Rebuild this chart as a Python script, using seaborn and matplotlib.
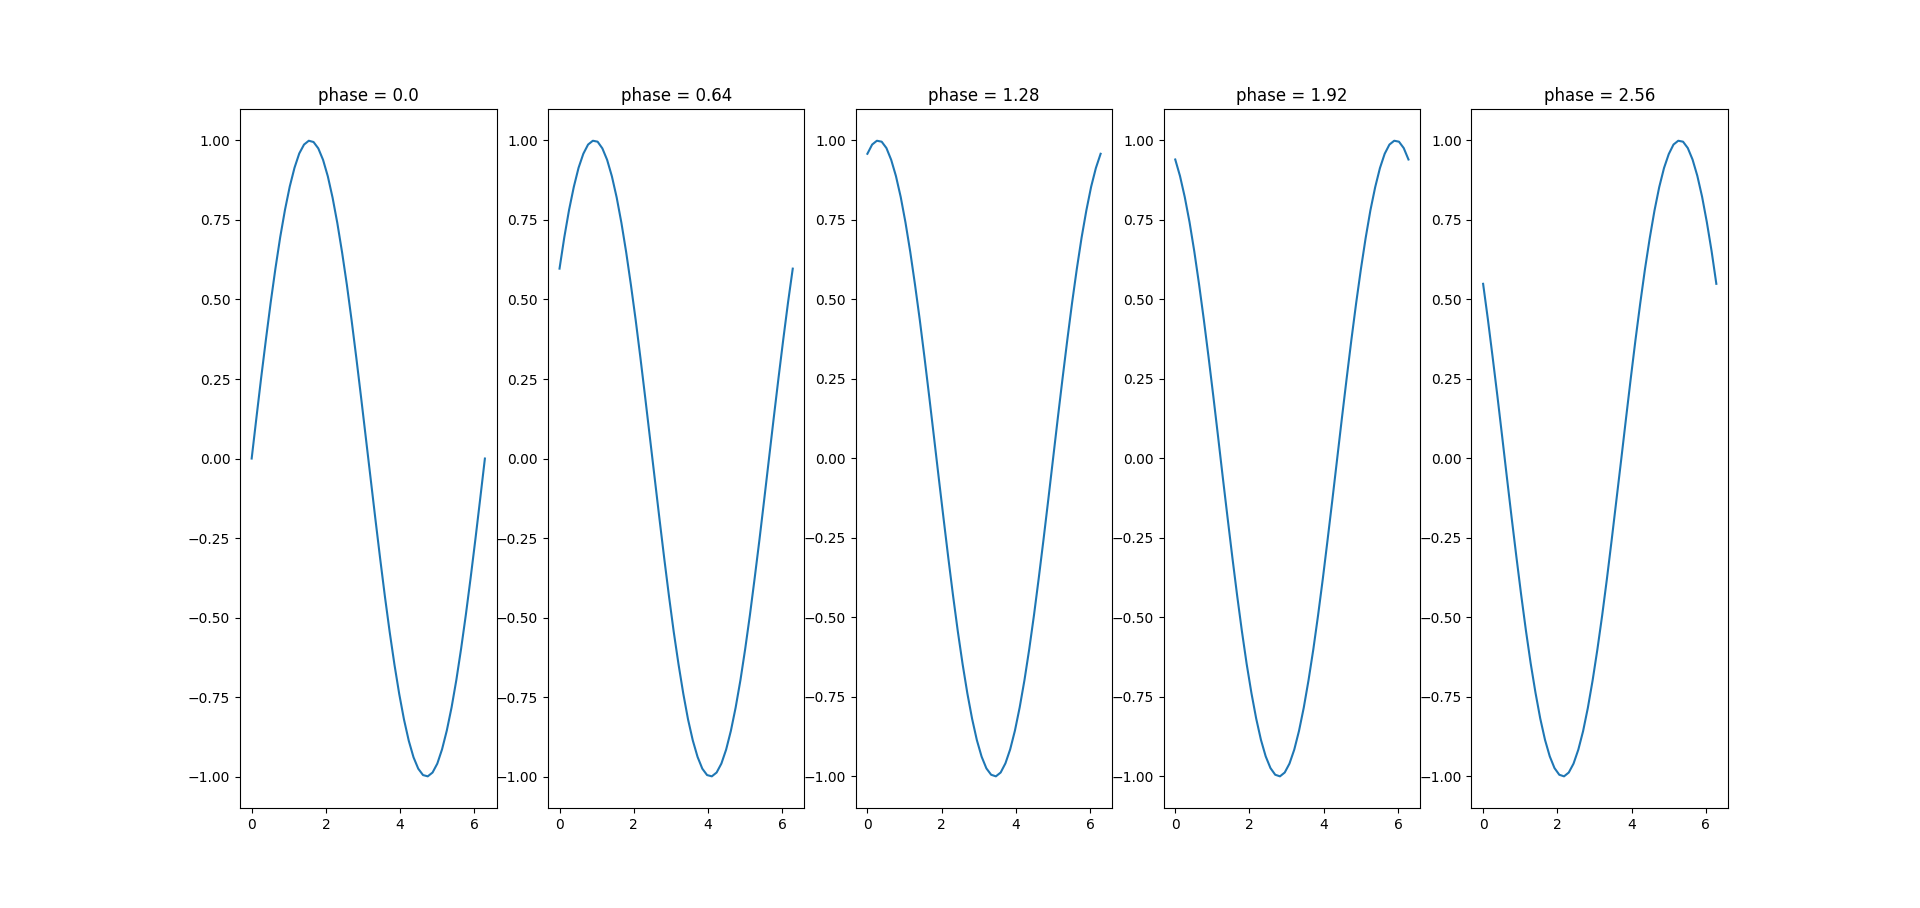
import numpy as np
import matplotlib
matplotlib.use("Agg")
import matplotlib.pyplot as plt
import seaborn as sns

plt.rcParams['font.family'] = ['DejaVu Sans']

# x samples (0 .. 2*pi, 50 points)
x = [0.0, 0.128, 0.256, 0.385, 0.513, 0.641, 0.769, 0.898, 1.026, 1.154,
     1.282, 1.411, 1.539, 1.667, 1.795, 1.923, 2.052, 2.180, 2.308, 2.436,
     2.565, 2.693, 2.821, 2.949, 3.077, 3.206, 3.334, 3.462, 3.590, 3.719,
     3.847, 3.975, 4.103, 4.232, 4.360, 4.488, 4.616, 4.744, 4.873, 5.001,
     5.129, 5.257, 5.386, 5.514, 5.642, 5.770, 5.899, 6.027, 6.155, 6.283]

phase_labels = ["0.0", "0.64", "1.28", "1.92", "2.56"]

y_phase0 = [0.0, 0.128, 0.254, 0.375, 0.491, 0.598, 0.696, 0.782, 0.855, 0.914,
            0.959, 0.987, 0.999, 0.995, 0.975, 0.939, 0.887, 0.820, 0.740, 0.648,
            0.546, 0.434, 0.315, 0.191, 0.064, -0.064, -0.191, -0.315, -0.434, -0.546,
            -0.648, -0.740, -0.820, -0.887, -0.939, -0.975, -0.995, -0.999, -0.987, -0.959,
            -0.914, -0.855, -0.782, -0.696, -0.598, -0.491, -0.375, -0.254, -0.128, 0.0]

y_phase1 = [0.597, 0.695, 0.781, 0.854, 0.914, 0.958, 0.987, 0.999, 0.996, 0.975,
            0.939, 0.887, 0.821, 0.741, 0.649, 0.546, 0.435, 0.316, 0.192, 0.065,
            -0.063, -0.190, -0.314, -0.433, -0.545, -0.647, -0.739, -0.820, -0.886, -0.938,
            -0.975, -0.995, -0.999, -0.987, -0.959, -0.915, -0.856, -0.783, -0.697, -0.599,
            -0.492, -0.376, -0.255, -0.129, -0.001, 0.127, 0.253, 0.374, 0.490, 0.597]

y_phase2 = [0.958, 0.987, 0.999, 0.996, 0.976, 0.939, 0.888, 0.822, 0.742, 0.650,
            0.547, 0.436, 0.317, 0.193, 0.066, -0.062, -0.189, -0.313, -0.432, -0.544,
            -0.647, -0.739, -0.819, -0.886, -0.938, -0.975, -0.995, -1.0, -0.988, -0.959,
            -0.915, -0.856, -0.783, -0.697, -0.600, -0.493, -0.377, -0.256, -0.130, -0.002,
            0.126, 0.251, 0.373, 0.489, 0.596, 0.694, 0.780, 0.854, 0.913, 0.958]

y_phase3 = [0.940, 0.888, 0.822, 0.743, 0.651, 0.548, 0.437, 0.318, 0.195, 0.068,
            -0.061, -0.188, -0.312, -0.431, -0.543, -0.646, -0.738, -0.818, -0.885, -0.937,
            -0.974, -0.995, -1.0, -0.988, -0.960, -0.916, -0.857, -0.784, -0.698, -0.601,
            -0.494, -0.379, -0.257, -0.131, -0.003, 0.125, 0.250, 0.372, 0.488, 0.595,
            0.693, 0.780, 0.853, 0.913, 0.958, 0.987, 0.999, 0.996, 0.976, 0.940]

y_phase4 = [0.549, 0.438, 0.319, 0.196, 0.069, -0.060, -0.187, -0.311, -0.430, -0.542,
            -0.645, -0.737, -0.818, -0.885, -0.937, -0.974, -0.995, -1.0, -0.988, -0.960,
            -0.916, -0.858, -0.785, -0.699, -0.602, -0.495, -0.380, -0.258, -0.132, -0.005,
            0.123, 0.249, 0.371, 0.487, 0.595, 0.692, 0.779, 0.853, 0.913, 0.957,
            0.987, 0.999, 0.996, 0.976, 0.940, 0.889, 0.823, 0.743, 0.652, 0.549]

series = [y_phase0, y_phase1, y_phase2, y_phase3, y_phase4]

fig, axes = plt.subplots(1, 5, figsize=(19.2, 9.08), dpi=100)

for ax, y, label in zip(axes, series, phase_labels):
    sns.lineplot(x=np.array(x), y=np.array(y), ax=ax, color="#1f77b4")
    ax.set_title(f"phase = {label}")

fig.savefig("out.png", dpi=100)
